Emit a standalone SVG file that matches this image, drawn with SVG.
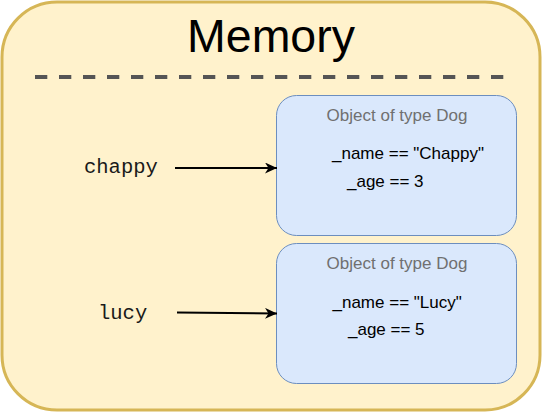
<svg xmlns="http://www.w3.org/2000/svg" width="543" height="413" viewBox="0 0 543 413">
<defs>
<style>
.obj{fill:#dae8fc;stroke:#6c8ebf;stroke-width:1}
.t{font-family:"Liberation Sans",Arial,sans-serif;font-size:17px;fill:#000}
.ttl{font-family:"Liberation Sans",Arial,sans-serif;font-size:17px;fill:#707070;text-anchor:middle}
.var{font-family:"Liberation Mono","Courier New",monospace;font-size:20.5px;fill:#1a1a1a}
.edge{stroke:#000;stroke-width:2;fill:none}
</style>
<marker id="arr" markerWidth="14" markerHeight="12" refX="12" refY="5.5" orient="auto" markerUnits="userSpaceOnUse">
<path d="M0,0 L12,5.5 L0,11 L3.5,5.5 Z" fill="#000"/>
</marker>
</defs>
<g id="memory">
<rect x="2" y="2" width="538" height="408" rx="55" ry="55" fill="#fff2cc" stroke="#d6b656" stroke-width="3"/>
<text x="271" y="52" text-anchor="middle" font-family="'Liberation Sans',Arial,sans-serif" font-size="46.5" fill="#000">Memory</text>
<line x1="35" y1="77" x2="503.3" y2="77" stroke="#555555" stroke-width="4" stroke-dasharray="12.3 11.7"/>
</g>
<g id="chappy">
<text class="var" x="84" y="173">chappy</text>
</g>
<g id="lucy">
<text class="var" x="98" y="319">lucy</text>
</g>
<g id="dog1">
<rect class="obj" x="276.5" y="95.5" width="240" height="140" rx="20" ry="20"/>
<text class="ttl" x="397" y="121">Object of type Dog</text>
<text class="t" x="332" y="159">_name == "Chappy"</text>
<text class="t" x="347" y="187">_age == 3</text>
</g>
<g id="dog2">
<rect class="obj" x="276.5" y="243.5" width="240" height="140" rx="20" ry="20"/>
<text class="ttl" x="397" y="269">Object of type Dog</text>
<text class="t" x="332.5" y="308">_name == "Lucy"</text>
<text class="t" x="348" y="335">_age == 5</text>
</g>
<g id="connectors">
<line class="edge" x1="175" y1="168" x2="277" y2="168" marker-end="url(#arr)"/>
<line class="edge" x1="177" y1="312.5" x2="277" y2="313.5" marker-end="url(#arr)"/>
</g>
</svg>
